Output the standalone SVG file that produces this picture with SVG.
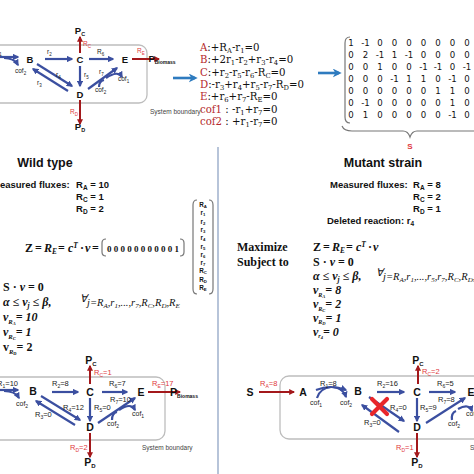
<svg xmlns="http://www.w3.org/2000/svg" width="474" height="474" viewBox="0 0 474 474">
<style>
.bg{fill:#fff}
.nd{font-family:"Liberation Sans",Arial,sans-serif;font-weight:bold;fill:#111;text-anchor:middle}
.lb{font-family:"Liberation Sans",Arial,sans-serif;fill:#222}
.rd{fill:#e0383c}
.bd{fill:none;stroke:#bdbdbd;stroke-width:1.3}
.bl{fill:none;stroke:#3b4fa0;stroke-width:2.2;marker-end:url(#ab)}
.bn{fill:none;stroke:#3b4fa0;stroke-width:2.2}
.dr{fill:none;stroke:#a3181b;stroke-width:2;marker-end:url(#ar)}
.big{fill:none;stroke:#2e7bbf;stroke-width:2.6;marker-end:url(#ak)}
.eq{font-family:"DejaVu Serif",serif;font-size:10.2px;fill:#111}
.el{fill:#b5292c}
.mt{font-family:"DejaVu Sans",sans-serif;font-size:8.6px;fill:#111;text-anchor:middle}
.hd{font-family:"Liberation Sans",Arial,sans-serif;font-weight:bold;font-size:12.5px;fill:#111}
.mf{font-family:"Liberation Sans",Arial,sans-serif;font-weight:bold;font-size:9.5px;fill:#111}
.mb{font-family:"Liberation Serif","Times New Roman",serif;font-weight:bold;font-size:12px;fill:#111}
.mi{font-family:"Liberation Serif","Times New Roman",serif;font-style:italic;font-size:10.5px;fill:#111}
.vc{font-family:"Liberation Sans",Arial,sans-serif;font-weight:bold;font-size:6.3px;fill:#111;text-anchor:middle}
.br{fill:none;stroke:#777;stroke-width:1.2}
.sb{font-family:"Liberation Sans",Arial,sans-serif;font-size:6.5px;fill:#444}
</style>
<defs>
<marker id="ab" viewBox="0 0 10 10" refX="8" refY="5" markerWidth="6.5" markerHeight="6.5" markerUnits="userSpaceOnUse" orient="auto"><path d="M0,0 L10,5 L0,10 z" fill="#3b4fa0"/></marker>
<marker id="ar" viewBox="0 0 10 10" refX="8" refY="5" markerWidth="6" markerHeight="6" markerUnits="userSpaceOnUse" orient="auto"><path d="M0,0 L10,5 L0,10 z" fill="#a3181b"/></marker>
<marker id="ak" viewBox="0 0 10 10" refX="7" refY="5" markerWidth="9" markerHeight="9" markerUnits="userSpaceOnUse" orient="auto"><path d="M0,0 L10,5 L0,10 L3,5 z" fill="#2e7bbf"/></marker>
</defs>
<rect class="bg" x="0" y="0" width="474" height="474"/>

<!-- ===== TOP NETWORK ===== -->
<rect class="bd" x="-20" y="45" width="167" height="58" rx="8"/>
<g id="top-connectors">
<path class="dr" d="M80,53 L80,37"/>
<path class="dr" d="M80,100 L80,124"/>
<path class="dr" d="M132,59 L159,59"/>
<path class="bl" d="M-6,57 L18,57"/>
<path class="bl" d="M4,58 Q14,58 18,65"/>
<path class="bl" d="M45,59 L72,59"/>
<path class="bl" d="M89,59 L113,59"/>
<path class="bl" d="M80,66 L80,86"/>
<path class="bl" d="M37,64 L72,86"/>
<path class="bl" d="M68,91 L33,69"/>
<path class="bl" d="M88,89 L117,68"/>
<path class="bn" d="M99,87 Q99,81 104,80"/>
<path class="bl" d="M106,78 Q118,70 122,77"/>
<path class="big" d="M173,78 L195,78"/>
<path class="big" d="M318,73 L339,73"/>
</g>
<g id="t-B"><text class="nd" x="30" y="62.5" font-size="9.5">B</text></g>
<g id="t-C"><text class="nd" x="80" y="62.5" font-size="9.5">C</text></g>
<g id="t-E"><text class="nd" x="125" y="62.5" font-size="9.5">E</text></g>
<g id="t-D"><text class="nd" x="80" y="97.5" font-size="9.5">D</text></g>
<g id="t-PC"><text class="nd" x="80" y="34" font-size="9.5">P<tspan font-size="5.5" dy="2">C</tspan></text></g>
<g id="t-PD"><text class="nd" x="80" y="130" font-size="9.5">P<tspan font-size="5.5" dy="2">D</tspan></text></g>
<g id="t-PB"><text class="nd" x="162" y="62" font-size="9.5" text-anchor="start">P<tspan font-size="5" dy="1.5">Biomass</tspan></text></g>
<g id="t-cof2a"><text class="lb" x="15" y="73" font-size="6.5">cof<tspan font-size="4.5" dy="1.5">2</tspan></text></g>
<g id="t-cof1"><text class="lb" x="118" y="81" font-size="6.5">cof<tspan font-size="4.5" dy="1.5">1</tspan></text></g>
<g id="t-cof2b"><text class="lb" x="95" y="92" font-size="6.5">cof<tspan font-size="4.5" dy="1.5">2</tspan></text></g>
<g id="top-labels" class="lb" font-size="6.5">
<text x="-3" y="54">r<tspan font-size="4.5" dy="1.5">1</tspan></text>
<text x="47" y="54">r<tspan font-size="4.5" dy="1.5">2</tspan></text>
<text x="97" y="54">R<tspan font-size="4.5" dy="1.5">6</tspan></text>
<text class="rd" x="83" y="46">R<tspan font-size="4.5" dy="1.5">C</tspan></text>
<text class="rd" x="137" y="53">R<tspan font-size="4.5" dy="1.5">E</tspan></text>
<text x="84" y="77">r<tspan font-size="4.5" dy="1.5">5</tspan></text>
<text x="37" y="85">r<tspan font-size="4.5" dy="1.5">3</tspan></text>
<text x="56" y="77">r<tspan font-size="4.5" dy="1.5">4</tspan></text>
<text x="99" y="74">r<tspan font-size="4.5" dy="1.5">7</tspan></text>
<text class="rd" x="70" y="114">R<tspan font-size="4.5" dy="1.5">D</tspan></text>
</g>
<text class="sb" x="150" y="114">System boundary</text>

<!-- ===== EQUATIONS ===== -->
<g id="equations" class="eq">
<text x="200" y="51"><tspan class="el">A</tspan>:+R<tspan font-size="6.8" dy="2">A</tspan><tspan dy="-2">-r</tspan><tspan font-size="6.8" dy="2">1</tspan><tspan dy="-2">=0</tspan></text>
<text x="200" y="63.3"><tspan class="el">B</tspan>:+2r<tspan font-size="6.8" dy="2">1</tspan><tspan dy="-2">-r</tspan><tspan font-size="6.8" dy="2">2</tspan><tspan dy="-2">+r</tspan><tspan font-size="6.8" dy="2">3</tspan><tspan dy="-2">-r</tspan><tspan font-size="6.8" dy="2">4</tspan><tspan dy="-2">=0</tspan></text>
<text x="200" y="75.6"><tspan class="el">C</tspan>:+r<tspan font-size="6.8" dy="2">2</tspan><tspan dy="-2">-r</tspan><tspan font-size="6.8" dy="2">5</tspan><tspan dy="-2">-r</tspan><tspan font-size="6.8" dy="2">6</tspan><tspan dy="-2">-R</tspan><tspan font-size="6.8" dy="2">C</tspan><tspan dy="-2">=0</tspan></text>
<text x="200" y="88"><tspan class="el">D</tspan>:-r<tspan font-size="6.8" dy="2">3</tspan><tspan dy="-2">+r</tspan><tspan font-size="6.8" dy="2">4</tspan><tspan dy="-2">+r</tspan><tspan font-size="6.8" dy="2">5</tspan><tspan dy="-2">-r</tspan><tspan font-size="6.8" dy="2">7</tspan><tspan dy="-2">-R</tspan><tspan font-size="6.8" dy="2">D</tspan><tspan dy="-2">=0</tspan></text>
<text x="200" y="100.3"><tspan class="el">E</tspan>:+r<tspan font-size="6.8" dy="2">6</tspan><tspan dy="-2">+r</tspan><tspan font-size="6.8" dy="2">7</tspan><tspan dy="-2">-R</tspan><tspan font-size="6.8" dy="2">E</tspan><tspan dy="-2">=0</tspan></text>
<text x="200" y="112.6"><tspan class="el">cof1</tspan> : -r<tspan font-size="6.8" dy="2">1</tspan><tspan dy="-2">+r</tspan><tspan font-size="6.8" dy="2">7</tspan><tspan dy="-2">=0</tspan></text>
<text x="200" y="125"><tspan class="el">cof2</tspan> : +r<tspan font-size="6.8" dy="2">1</tspan><tspan dy="-2">-r</tspan><tspan font-size="6.8" dy="2">7</tspan><tspan dy="-2">=0</tspan></text>
</g>

<!-- ===== MATRIX ===== -->
<g id="matrix">
<path class="br" d="M350,37 Q345,37 345,43 L345,117 Q345,123 350,123"/>
<g class="mt">
<text y="46"><tspan x="351">1</tspan><tspan x="365.5">-1</tspan><tspan x="380">0</tspan><tspan x="394.5">0</tspan><tspan x="409">0</tspan><tspan x="423.5">0</tspan><tspan x="438">0</tspan><tspan x="452.5">0</tspan><tspan x="467">0</tspan><tspan x="481.5">0</tspan></text>
<text y="58"><tspan x="351">0</tspan><tspan x="365.5">2</tspan><tspan x="380">-1</tspan><tspan x="394.5">1</tspan><tspan x="409">-1</tspan><tspan x="423.5">0</tspan><tspan x="438">0</tspan><tspan x="452.5">0</tspan><tspan x="467">0</tspan><tspan x="481.5">0</tspan></text>
<text y="70"><tspan x="351">0</tspan><tspan x="365.5">0</tspan><tspan x="380">1</tspan><tspan x="394.5">0</tspan><tspan x="409">0</tspan><tspan x="423.5">-1</tspan><tspan x="438">-1</tspan><tspan x="452.5">0</tspan><tspan x="467">-1</tspan><tspan x="481.5">0</tspan></text>
<text y="82"><tspan x="351">0</tspan><tspan x="365.5">0</tspan><tspan x="380">0</tspan><tspan x="394.5">-1</tspan><tspan x="409">1</tspan><tspan x="423.5">1</tspan><tspan x="438">0</tspan><tspan x="452.5">-1</tspan><tspan x="467">0</tspan><tspan x="481.5">-1</tspan></text>
<text y="94"><tspan x="351">0</tspan><tspan x="365.5">0</tspan><tspan x="380">0</tspan><tspan x="394.5">0</tspan><tspan x="409">0</tspan><tspan x="423.5">0</tspan><tspan x="438">1</tspan><tspan x="452.5">1</tspan><tspan x="467">0</tspan><tspan x="481.5">0</tspan></text>
<text y="106"><tspan x="351">0</tspan><tspan x="365.5">-1</tspan><tspan x="380">0</tspan><tspan x="394.5">0</tspan><tspan x="409">0</tspan><tspan x="423.5">0</tspan><tspan x="438">0</tspan><tspan x="452.5">1</tspan><tspan x="467">0</tspan><tspan x="481.5">0</tspan></text>
<text y="118"><tspan x="351">0</tspan><tspan x="365.5">1</tspan><tspan x="380">0</tspan><tspan x="394.5">0</tspan><tspan x="409">0</tspan><tspan x="423.5">0</tspan><tspan x="438">0</tspan><tspan x="452.5">-1</tspan><tspan x="467">0</tspan><tspan x="481.5">0</tspan></text>
</g>
<path class="br" d="M342,126 Q344,131 352,131 L403,131 Q408,131 410,137 Q412,131 417,131 L480,131"/>
<text x="410" y="149" font-family="Liberation Sans,Arial,sans-serif" font-weight="bold" font-size="8" fill="#e0383c" text-anchor="middle">S</text>
</g>

<!-- divider -->
<line x1="218" y1="147" x2="218" y2="474" stroke="#9fb0cc" stroke-width="1.5"/>

<!-- ===== WILD TYPE ===== -->
<text class="hd" x="45" y="167" text-anchor="middle">Wild type</text>
<text class="mf" x="-8" y="188">Measured fluxes:</text>
<text class="mf" x="76" y="188">R<tspan font-size="6.5" dy="2">A</tspan><tspan dy="-2"> = 10</tspan></text>
<text class="mf" x="76" y="200">R<tspan font-size="6.5" dy="2">C</tspan><tspan dy="-2"> = 1</tspan></text>
<text class="mf" x="76" y="212">R<tspan font-size="6.5" dy="2">D</tspan><tspan dy="-2"> = 2</tspan></text>

<text class="mb" y="252" font-size="11.5"><tspan x="25">Z</tspan><tspan x="35">=</tspan><tspan x="44" font-style="italic">R</tspan><tspan font-style="italic" font-size="7.5" dy="2">E</tspan><tspan x="58" dy="-2">=</tspan><tspan x="68" font-style="italic">c</tspan><tspan font-style="italic" font-size="7.5" dy="-4">T</tspan><tspan x="80" dy="4">·</tspan><tspan x="85" font-style="italic">v</tspan><tspan x="92">=</tspan></text>
<path class="br" d="M106,239 Q102,239 102,243 L102,252 Q102,256 106,256"/>
<text x="107" y="251.5" font-family="Liberation Serif,serif" font-weight="bold" font-size="9" fill="#111" textLength="72" lengthAdjust="spacing">0 0 0 0 0 0 0 0 0 0 1</text>
<path class="br" d="M180,239 Q184,239 184,243 L184,252 Q184,256 180,256"/>

<g id="v-vector">
<path class="br" d="M197,200 Q193,200 193,205 L193,289 Q193,294 197,294"/>
<path class="br" d="M209,200 Q213,200 213,205 L213,289 Q213,294 209,294"/>
<g class="vc">
<text x="203" y="207">R<tspan font-size="4.3" dy="1">A</tspan></text>
<text x="203" y="215.3">r<tspan font-size="4.3" dy="1">1</tspan></text>
<text x="203" y="223.6">r<tspan font-size="4.3" dy="1">2</tspan></text>
<text x="203" y="231.9">r<tspan font-size="4.3" dy="1">3</tspan></text>
<text x="203" y="240.2">r<tspan font-size="4.3" dy="1">4</tspan></text>
<text x="203" y="248.5">r<tspan font-size="4.3" dy="1">5</tspan></text>
<text x="203" y="256.8">r<tspan font-size="4.3" dy="1">6</tspan></text>
<text x="203" y="265.1">r<tspan font-size="4.3" dy="1">7</tspan></text>
<text x="203" y="273.4">R<tspan font-size="4.3" dy="1">C</tspan></text>
<text x="203" y="281.7">R<tspan font-size="4.3" dy="1">D</tspan></text>
<text x="203" y="290">R<tspan font-size="4.3" dy="1">E</tspan></text>
</g>
</g>

<text class="mb" x="3" y="291">S · <tspan font-style="italic">v</tspan>  =  0</text>
<text class="mb" x="3" y="306" font-style="italic">α ≤ v<tspan font-size="7.5" dy="2">j</tspan><tspan dy="-2"> ≤ β,</tspan></text>
<text class="mi" x="80" y="302" font-size="8">∀</text>
<text class="mi" x="87" y="306">j=R<tspan font-size="7" dy="2">A</tspan><tspan dy="-2">,r</tspan><tspan font-size="7" dy="2">1</tspan><tspan dy="-2">,...,r</tspan><tspan font-size="7" dy="2">7</tspan><tspan dy="-2">,R</tspan><tspan font-size="7" dy="2">C</tspan><tspan dy="-2">,R</tspan><tspan font-size="7" dy="2">D</tspan><tspan dy="-2">,R</tspan><tspan font-size="7" dy="2">E</tspan></text>
<text class="mb" x="3" y="321" font-style="italic">v<tspan font-size="6.5" dy="2.5">R</tspan><tspan font-size="4.5" dy="1">A</tspan><tspan dy="-3.5">= 10</tspan></text>
<text class="mb" x="3" y="336" font-style="italic">v<tspan font-size="6.5" dy="2.5">R</tspan><tspan font-size="4.5" dy="1">C</tspan><tspan dy="-3.5">= 1</tspan></text>
<text class="mb" x="3" y="351">v<tspan font-size="6.5" dy="2.5" font-style="italic">R</tspan><tspan font-size="4.5" dy="1">D</tspan><tspan dy="-3.5">= 2</tspan></text>

<!-- ===== MUTANT ===== -->
<text class="hd" x="383" y="167" text-anchor="middle">Mutant strain</text>
<text class="mf" x="330" y="188">Measured fluxes:</text>
<text class="mf" x="413" y="188">R<tspan font-size="6.5" dy="2">A</tspan><tspan dy="-2"> = 8</tspan></text>
<text class="mf" x="413" y="200">R<tspan font-size="6.5" dy="2">C</tspan><tspan dy="-2"> = 2</tspan></text>
<text class="mf" x="413" y="212">R<tspan font-size="6.5" dy="2">D</tspan><tspan dy="-2"> = 1</tspan></text>
<text class="mf" x="327" y="224">Deleted reaction: r<tspan font-size="6.5" dy="2">4</tspan></text>

<text class="mb" x="237" y="251" font-size="11.5">Maximize</text>
<text class="mb" x="237" y="266" font-size="11.5">Subject to</text>
<text class="mb" y="251" font-size="11.5"><tspan x="313">Z</tspan><tspan x="323">=</tspan><tspan x="332" font-style="italic">R</tspan><tspan font-style="italic" font-size="7.5" dy="2">E</tspan><tspan x="346" dy="-2">=</tspan><tspan x="356" font-style="italic">c</tspan><tspan font-style="italic" font-size="7.5" dy="-4">T</tspan><tspan x="368" dy="4">·</tspan><tspan x="373" font-style="italic">v</tspan></text>
<text class="mb" x="313" y="266">S · <tspan font-style="italic">v</tspan>  =  0</text>
<text class="mb" x="313" y="280" font-style="italic">α ≤ v<tspan font-size="7.5" dy="2">j</tspan><tspan dy="-2"> ≤ β,</tspan></text>
<text class="mi" x="376" y="276" font-size="8">∀</text>
<text class="mi" x="383" y="280">j=R<tspan font-size="7" dy="2">A</tspan><tspan dy="-2">,r</tspan><tspan font-size="7" dy="2">1</tspan><tspan dy="-2">,...,r</tspan><tspan font-size="7" dy="2">5</tspan><tspan dy="-2">,r</tspan><tspan font-size="7" dy="2">7</tspan><tspan dy="-2">,R</tspan><tspan font-size="7" dy="2">C</tspan><tspan dy="-2">,R</tspan><tspan font-size="7" dy="2">D</tspan><tspan dy="-2">,R</tspan><tspan font-size="7" dy="2">E</tspan></text>
<text class="mb" x="313" y="294" font-style="italic">v<tspan font-size="6" dy="2.5">R</tspan><tspan font-size="4.5" dy="1">A</tspan><tspan dy="-3.5">=  8</tspan></text>
<text class="mb" x="313" y="308" font-style="italic">v<tspan font-size="6" dy="2.5">R</tspan><tspan font-size="4.5" dy="1">C</tspan><tspan dy="-3.5">=  2</tspan></text>
<text class="mb" x="313" y="321.5" font-style="italic">v<tspan font-size="6" dy="2.5">R</tspan><tspan font-size="4.5" dy="1">D</tspan><tspan dy="-3.5">=  1</tspan></text>
<text class="mb" x="313" y="336" font-style="italic">v<tspan font-size="6" dy="2">r</tspan><tspan font-size="4.5" dy="1">4</tspan><tspan dy="-3">= 0</tspan></text>

<!-- ===== WILD TYPE NETWORK ===== -->
<rect class="bd" x="-20" y="377" width="185" height="63" rx="9"/>
<g id="wt-connectors">
<path class="dr" d="M90,384 L90,366"/>
<path class="dr" d="M90,433 L90,457"/>
<path class="dr" d="M148,392 L180,392"/>
<path class="bl" d="M-6,390 L18,390"/>
<path class="bl" d="M4,391 Q15,391 19,398"/>
<path class="bl" d="M52,392 L78,392"/>
<path class="bl" d="M102,392 L127,392"/>
<path class="bl" d="M90,398 L90,421"/>
<path class="bl" d="M41,396 L80,420"/>
<path class="bl" d="M75,425 L36,401"/>
<path class="bl" d="M98,423 L135,398"/>
<path class="bn" d="M112,420 Q112,413 117,412"/>
<path class="bl" d="M119,410 Q131,402 135,410"/>
</g>
<g id="wt-B"><text class="nd" x="33" y="395" font-size="10.5">B</text></g>
<g id="wt-C"><text class="nd" x="90" y="396" font-size="10.5">C</text></g>
<g id="wt-E"><text class="nd" x="141" y="396" font-size="10.5">E</text></g>
<g id="wt-D"><text class="nd" x="90" y="431" font-size="10.5">D</text></g>
<g id="wt-PC"><text class="nd" x="91" y="364" font-size="10.5">P<tspan font-size="6" dy="2">C</tspan></text></g>
<g id="wt-PD"><text class="nd" x="90" y="466" font-size="10.5">P<tspan font-size="6" dy="2">D</tspan></text></g>
<g id="wt-PB"><text class="nd" x="184" y="396" font-size="10.5" text-anchor="start">P<tspan font-size="5" dy="1.5">Biomass</tspan></text></g>
<g id="wt-cof2a"><text class="lb" x="16" y="406" font-size="7">cof<tspan font-size="5" dy="1.5">2</tspan></text></g>
<g id="wt-cof1"><text class="lb" x="132" y="416" font-size="7">cof<tspan font-size="5" dy="1.5">1</tspan></text></g>
<g id="wt-cof2b"><text class="lb" x="107" y="426" font-size="7">cof<tspan font-size="5" dy="1.5">2</tspan></text></g>
<g id="wt-labels" class="lb" font-size="7.5">
<text x="18" y="386" text-anchor="end">R<tspan font-size="5" dy="1.5">1</tspan><tspan dy="-1.5">=10</tspan></text>
<text x="52" y="386">R<tspan font-size="5" dy="1.5">2</tspan><tspan dy="-1.5">=8</tspan></text>
<text x="109" y="386">R<tspan font-size="5" dy="1.5">6</tspan><tspan dy="-1.5">=7</tspan></text>
<text class="rd" x="94" y="375">R<tspan font-size="5" dy="1.5">C</tspan><tspan dy="-1.5">=1</tspan></text>
<text class="rd" x="152" y="386">R<tspan font-size="5" dy="1.5">E</tspan><tspan dy="-1.5">=17</tspan></text>
<text x="94" y="410">R<tspan font-size="5" dy="1.5">5</tspan><tspan dy="-1.5">=0</tspan></text>
<text x="35" y="417">R<tspan font-size="5" dy="1.5">3</tspan><tspan dy="-1.5">=0</tspan></text>
<text x="63" y="410">R<tspan font-size="5" dy="1.5">4</tspan><tspan dy="-1.5">=12</tspan></text>
<text x="110" y="402">R<tspan font-size="5" dy="1.5">7</tspan><tspan dy="-1.5">=10</tspan></text>
<text class="rd" x="70" y="450">R<tspan font-size="5" dy="1.5">D</tspan><tspan dy="-1.5">=2</tspan></text>
</g>
<text class="sb" x="142" y="450" font-size="7">System boundary</text>

<!-- ===== MUTANT NETWORK ===== -->
<rect class="bd" x="280" y="376" width="215" height="63" rx="9"/>
<g id="mu-connectors">
<path class="dr" d="M259,392 L294,392"/>
<path class="dr" d="M418,384 L418,366"/>
<path class="dr" d="M417,433 L417,457"/>
<path class="bl" d="M316,390 Q331,384 346,390"/>
<path class="bn" d="M317,398 Q320,388 331,387"/>
<path class="bl" d="M333,387 Q343,388 346,397"/>
<path class="bl" d="M377,392 L404,392"/>
<path class="bl" d="M429,392 L455,392"/>
<path class="bl" d="M417,398 L417,421"/>
<path class="bl" d="M369,397 L404,421"/>
<path class="bl" d="M399,432 L362,405"/>
<path class="bl" d="M426,423 L465,398"/>
<path class="bn" d="M452,420 Q451,413 456,411"/>
<path class="bl" d="M458,409 Q469,403 472,411"/>
<path d="M372,399 L387,414 M387,399 L372,414" stroke="#e8262a" stroke-width="4.2" stroke-linecap="round" fill="none"/>
</g>
<g id="mu-S"><text class="nd" x="250" y="396" font-size="10.5">S</text></g>
<g id="mu-A"><text class="nd" x="303" y="396" font-size="10.5">A</text></g>
<g id="mu-B"><text class="nd" x="358" y="395" font-size="10.5">B</text></g>
<g id="mu-C"><text class="nd" x="417" y="396" font-size="10.5">C</text></g>
<g id="mu-E"><text class="nd" x="471" y="396" font-size="10.5">E</text></g>
<g id="mu-D"><text class="nd" x="417" y="431" font-size="10.5">D</text></g>
<g id="mu-PC"><text class="nd" x="418" y="364" font-size="10.5">P<tspan font-size="6" dy="2">C</tspan></text></g>
<g id="mu-PD"><text class="nd" x="417" y="466" font-size="10.5">P<tspan font-size="6" dy="2">D</tspan></text></g>
<g id="mu-cof1"><text class="lb" x="310" y="405" font-size="7">cof<tspan font-size="5" dy="1.5">1</tspan></text></g>
<g id="mu-cof2a"><text class="lb" x="340" y="405" font-size="7">cof<tspan font-size="5" dy="1.5">2</tspan></text></g>
<g id="mu-cof2b"><text class="lb" x="448" y="426" font-size="7">cof<tspan font-size="5" dy="1.5">2</tspan></text></g>
<g id="mu-cof1b"><text class="lb" x="466" y="416" font-size="7">cof</text></g>
<g id="mu-labels" class="lb" font-size="7.5">
<text class="rd" x="260" y="386">R<tspan font-size="5" dy="1.5">A</tspan><tspan dy="-1.5">=8</tspan></text>
<text x="320" y="386">R<tspan font-size="5" dy="1.5">1</tspan><tspan dy="-1.5">=8</tspan></text>
<text x="377" y="386">R<tspan font-size="5" dy="1.5">2</tspan><tspan dy="-1.5">=16</tspan></text>
<text class="rd" x="422" y="374">R<tspan font-size="5" dy="1.5">C</tspan><tspan dy="-1.5">=2</tspan></text>
<text x="437" y="386">R<tspan font-size="5" dy="1.5">6</tspan><tspan dy="-1.5">=5</tspan></text>
<text x="420" y="410">R<tspan font-size="5" dy="1.5">5</tspan><tspan dy="-1.5">=9</tspan></text>
<text x="438" y="402">R<tspan font-size="5" dy="1.5">7</tspan><tspan dy="-1.5">=8</tspan></text>
<text x="390" y="410">R<tspan font-size="5" dy="1.5">4</tspan><tspan dy="-1.5">=0</tspan></text>
<text x="364" y="425">R<tspan font-size="5" dy="1.5">3</tspan><tspan dy="-1.5">=0</tspan></text>
<text class="rd" x="396" y="450">R<tspan font-size="5" dy="1.5">D</tspan><tspan dy="-1.5">=1</tspan></text>
</g>
<text class="sb" x="470" y="450" font-size="7">System boundary</text>
</svg>
